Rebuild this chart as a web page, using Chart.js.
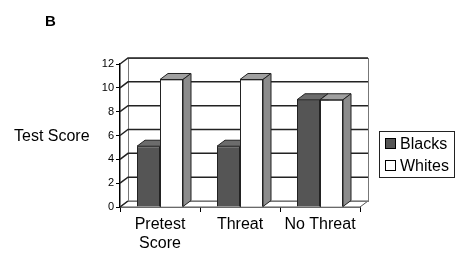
<!DOCTYPE html>
<html>
<head>
<meta charset="utf-8">
<script src="https://cdn.jsdelivr.net/npm/chart.js@4/dist/chart.umd.min.js"></script>
<style>
  body { margin: 0; background: #fff; font-family: 'Liberation Sans', Arial, sans-serif; }
  #wrap { position: relative; width: 474px; height: 271px; }
  #panel { position: absolute; left: 45px; top: 12px; font-size: 15px; font-weight: bold; }
  #ytitle { position: absolute; left: 14px; top: 127px; font-size: 16px; }
  #legend { position: absolute; left: 379px; top: 131px; width: 74px; height: 45px; border: 1.5px solid #222; font-size: 16px; }
  #legend div { position: absolute; left: 5px; height: 18px; line-height: 18px; }
  #legend span { display: inline-block; width: 9px; height: 9px; border: 1px solid #000; margin-right: 4px; vertical-align: 0px; }
</style>
</head>
<body>
<div id="wrap">
  <canvas id="myChart" width="474" height="271"></canvas>
  <div id="panel">B</div>
  <div id="ytitle">Test Score</div>
  <div id="legend"></div>
</div>
<script>
//データ
const categories = [['Pretest', 'Score'], 'Threat', 'No Threat'];
const seriesNames = ['Blacks', 'Whites'];
const blacks = [5.1, 5.1, 9.0];
const whites = [10.7, 10.7, 9.0];
const yTicks = [0, 2, 4, 6, 8, 10, 12];

//色 (前面, 上面, 側面)
const faceColors = [
  { front: '#555555', top: '#6c6c6c', side: '#474747' },
  { front: '#ffffff', top: '#a0a0a0', side: '#8c8c8c' },
];

//奥行き
const dx = 8;
const dy = 6;

//凡例をHTMLで作成
let str = '';
for (let i = 0; i < seriesNames.length; i++) {
  str += '<div style="top:' + (3 + i * 22) + 'px"><span style="background:' +
    faceColors[i].front + '"></span>' + seriesNames[i] + '</div>';
}
document.getElementById('legend').innerHTML = str;

//上面と側面を描く
function drawFaces(ctx, bar, c) {
  const p = bar.getProps(['x', 'y', 'base', 'width']);
  const x0 = p.x - p.width / 2;
  const x1 = p.x + p.width / 2;
  ctx.fillStyle = c.top;
  ctx.beginPath();
  ctx.moveTo(x0, p.y);
  ctx.lineTo(x0 + dx, p.y - dy);
  ctx.lineTo(x1 + dx, p.y - dy);
  ctx.lineTo(x1, p.y);
  ctx.closePath();
  ctx.fill();
  ctx.stroke();
  ctx.fillStyle = c.side;
  ctx.beginPath();
  ctx.moveTo(x1, p.y);
  ctx.lineTo(x1 + dx, p.y - dy);
  ctx.lineTo(x1 + dx, p.base - dy);
  ctx.lineTo(x1, p.base);
  ctx.closePath();
  ctx.fill();
  ctx.stroke();
}

const wallPlugin = {
  id: 'wall',
  //奥の壁と床
  beforeDatasetsDraw(chart) {
    const ctx = chart.ctx;
    const a = chart.chartArea;
    const y = chart.scales.y;
    ctx.save();
    ctx.fillStyle = '#fff';
    ctx.strokeStyle = '#555';
    ctx.lineWidth = 1;
    ctx.beginPath();
    ctx.moveTo(a.left, a.bottom);
    ctx.lineTo(a.left + dx, a.bottom - dy);
    ctx.lineTo(a.right + dx, a.bottom - dy);
    ctx.lineTo(a.right, a.bottom);
    ctx.closePath();
    ctx.fill();
    ctx.stroke();
    ctx.strokeStyle = '#777';
    ctx.strokeRect(a.left + dx + 0.5, a.top - dy + 0.5, a.right - a.left, a.bottom - a.top);
    ctx.strokeStyle = '#222';
    ctx.lineWidth = 1.5;
    yTicks.forEach(function (v) {
      const py = y.getPixelForValue(v);
      ctx.beginPath();
      ctx.moveTo(a.left, py);
      ctx.lineTo(a.left + dx, py - dy);
      if (v > 0) ctx.lineTo(a.right + dx, py - dy);
      ctx.stroke();
    });
    ctx.restore();
  },
  //Blacksの面 → Whitesの棒を描き直し → Whitesの面
  afterDatasetsDraw(chart) {
    const ctx = chart.ctx;
    const mb = chart.getDatasetMeta(0);
    const mw = chart.getDatasetMeta(1);
    ctx.save();
    ctx.strokeStyle = '#222';
    ctx.lineWidth = 1;
    for (let i = 0; i < categories.length; i++) {
      drawFaces(ctx, mb.data[i], faceColors[0]);
      mw.data[i].draw(ctx);
      ctx.strokeStyle = '#222';
      ctx.lineWidth = 1;
      drawFaces(ctx, mw.data[i], faceColors[1]);
    }
    ctx.restore();
  },
};

//グラフを描写
const ctx = document.getElementById('myChart');
const myChart = new Chart(ctx, {
  type: 'bar',
  data: {
    labels: categories,
    datasets: [
      {
        label: seriesNames[0],
        data: blacks,
        backgroundColor: faceColors[0].front,
        borderColor: '#222',
        borderWidth: 1,
      },
      {
        label: seriesNames[1],
        data: whites,
        backgroundColor: faceColors[1].front,
        borderColor: '#222',
        borderWidth: 1,
      },
    ],
  },
  options: {
    responsive: false,
    animation: false,
    events: [],
    layout: { padding: { left: 100, right: 114, top: 64, bottom: 0 } },
    categoryPercentage: 0.575,
    barPercentage: 1,
    plugins: { legend: { display: false }, tooltip: { enabled: false } },
    scales: {
      x: {
        afterFit: function (scale) { scale.height = 64; },
        grid: { drawOnChartArea: false, offset: true, tickLength: 5, color: '#000' },
        border: { display: true, color: '#000', width: 1.5 },
        ticks: { color: '#000', padding: 3, font: { family: 'Liberation Sans', size: 16 }, maxRotation: 0 },
      },
      y: {
        min: 0,
        max: 12,
        afterFit: function (scale) { scale.width = 20; },
        grid: { drawOnChartArea: false, tickLength: 4, color: '#000' },
        border: { display: true, color: '#000', width: 1.5 },
        ticks: { stepSize: 2, color: '#000', padding: 2, font: { family: 'Liberation Sans', size: 11 } },
      },
    },
  },
  plugins: [wallPlugin],
});
</script>
</body>
</html>
